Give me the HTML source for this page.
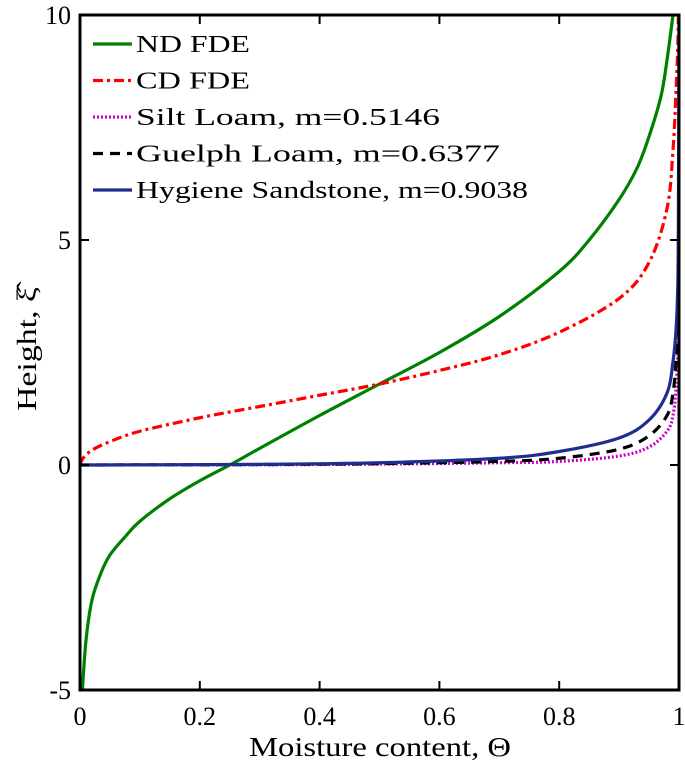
<!DOCTYPE html>
<html><head><meta charset="utf-8"><style>
body{margin:0;background:#fff}
svg{display:block}
text{font-family:"Liberation Serif","DejaVu Serif",serif}
</style></head><body>
<svg id="chart" width="685" height="765">
<g id="series"></g>
<rect x="80" y="15" width="599" height="675" fill="none" stroke="#000" stroke-width="3"/>
<g id="ticks"></g>
<text x="380" y="756" font-family="Liberation Serif, serif" font-size="27" text-anchor="middle" textLength="262" lengthAdjust="spacingAndGlyphs">Moisture content, Θ</text>
<text transform="translate(36,349) rotate(-90)" font-family="Liberation Serif, serif" font-size="27" text-anchor="middle" textLength="124" lengthAdjust="spacingAndGlyphs">Height, ξ̂</text>
<g id="legend"></g>
</svg>
<script>
const xTicks=[0,0.2,0.4,0.6,0.8,1];
const xTickLabels=["0","0.2","0.4","0.6","0.8","1"];
const yTicks=[-5,0,5,10];
const yTickLabels=["-5","0","5","10"];
const ndX=[0.004,0.01,0.02,0.035,0.05,0.075,0.1,0.15,0.2,0.25,0.3,0.4,0.5,0.6,0.7,0.8,0.85,0.9,0.93,0.95,0.97,0.98,0.99];
const ndY=[-5,-3.9,-3.0,-2.4,-2.0,-1.6,-1.25,-0.75,-0.35,0,0.37,1.1,1.8,2.5,3.3,4.3,5.0,5.9,6.6,7.3,8.2,9.0,10];
const cdX=[0,0.005,0.02,0.05,0.1,0.2,0.3,0.4,0.5,0.6,0.7,0.8,0.9,0.95,0.98,0.99,0.995,0.998,0.999];
const cdY=[0,0.15,0.33,0.52,0.75,1.05,1.3,1.55,1.8,2.1,2.45,2.95,3.7,4.5,5.7,7.0,8.3,9.3,10];
const siltX=[0,0.3,0.5,0.7,0.8,0.9,0.95,0.98,0.99,0.995,0.998,0.999];
const siltY=[0,0.005,0.02,0.05,0.08,0.2,0.4,0.75,1.1,1.7,2.5,3.0];
const guelphX=[0,0.3,0.5,0.7,0.8,0.9,0.95,0.98,0.99,0.995,0.998];
const guelphY=[0,0.01,0.03,0.08,0.15,0.35,0.65,1.1,1.6,2.3,3.2];
const hygX=[0,0.3,0.5,0.7,0.8,0.9,0.95,0.98,0.99,0.995,0.998,0.999,0.9995,1];
const hygY=[0,0.015,0.05,0.15,0.3,0.6,1.0,1.6,2.3,3.0,4.0,5.5,7.5,10];
const legendWidths=[114,114,304,364,392];
const NS="http://www.w3.org/2000/svg";
const X=v=>80+v*599, Y=v=>465-v*45;
function mk(t,a,p){const e=document.createElementNS(NS,t);for(const k in a)e.setAttribute(k,a[k]);p.appendChild(e);return e;}
const sg=document.getElementById('series'),tg=document.getElementById('ticks'),lg=document.getElementById('legend');
const FF='Liberation Serif, serif';
xTicks.forEach((v,i)=>{
 const l=mk('line',{x1:X(v),x2:X(v),y1:690,y2:681,stroke:'#000','stroke-width':2},tg);
 
 
 const l2=mk('line',{x1:X(v),x2:X(v),y1:15,y2:24,stroke:'#000','stroke-width':2},tg);
 
 
 const t=mk('text',{x:X(v),y:725,'font-size':26,'font-family':FF,'text-anchor':'middle'},tg);t.textContent=xTickLabels[i];
 
 
});
yTicks.forEach((v,i)=>{
 const l=mk('line',{x1:80,x2:89,y1:Y(v),y2:Y(v),stroke:'#000','stroke-width':2},tg);
 
 
 const l2=mk('line',{x1:679,x2:670,y1:Y(v),y2:Y(v),stroke:'#000','stroke-width':2},tg);
 
 
 const t=mk('text',{x:71,y:Y(v)+9,'font-size':26,'font-family':FF,'text-anchor':'end'},tg);t.textContent=yTickLabels[i];
 
 
});
const series=[
 {name:'nd-fde-line',xs:ndX,ys:ndY,c:'#008000',d:'',lab:'ND FDE'},
 {name:'cd-fde-line',xs:cdX,ys:cdY,c:'#ff0000',d:'10 4 3 4',lab:'CD FDE'},
 {name:'silt-loam-line',xs:siltX,ys:siltY,c:'#cc00cc',d:'2 2',lab:'Silt Loam, m=0.5146'},
 {name:'guelph-loam-line',xs:guelphX,ys:guelphY,c:'#000',d:'10 7',lab:'Guelph Loam, m=0.6377'},
 {name:'hygiene-sandstone-line',xs:hygX,ys:hygY,c:'#1f2f8f',d:'',lab:'Hygiene Sandstone, m=0.9038'}
];
function smooth(xs,ys){const p=xs.map((x,i)=>[X(x),Y(ys[i])]);let d='M'+p[0][0]+','+p[0][1];
 for(let i=0;i<p.length-1;i++){const p0=p[i-1]||p[i],p1=p[i],p2=p[i+1],p3=p[i+2]||p2;
 d+=` C${p1[0]+(p2[0]-p0[0])/6},${p1[1]+(p2[1]-p0[1])/6} ${p2[0]-(p3[0]-p1[0])/6},${p2[1]-(p3[1]-p1[1])/6} ${p2[0]},${p2[1]}`;}return d;}
const cp=mk('clipPath',{id:'cp'},document.getElementById('chart'));
mk('rect',{x:80,y:15,width:600,height:675},cp);
sg.setAttribute('clip-path','url(#cp)');
series.forEach((s,i)=>{
 const p=mk('path',{d:smooth(s.xs,s.ys),fill:'none',stroke:s.c,'stroke-width':3.2,'stroke-dasharray':s.d},sg);
 
 
 const y=44+i*36.5;
 const l=mk('line',{x1:93,x2:132,y1:y,y2:y,stroke:s.c,'stroke-width':3.2,'stroke-dasharray':s.d},lg);
 
 
 const t=mk('text',{x:136,y:y+8,'font-size':24,'font-family':FF,textLength:legendWidths[i],lengthAdjust:'spacingAndGlyphs'},lg);t.textContent=s.lab;
 
 
});
</script>
</body></html>
